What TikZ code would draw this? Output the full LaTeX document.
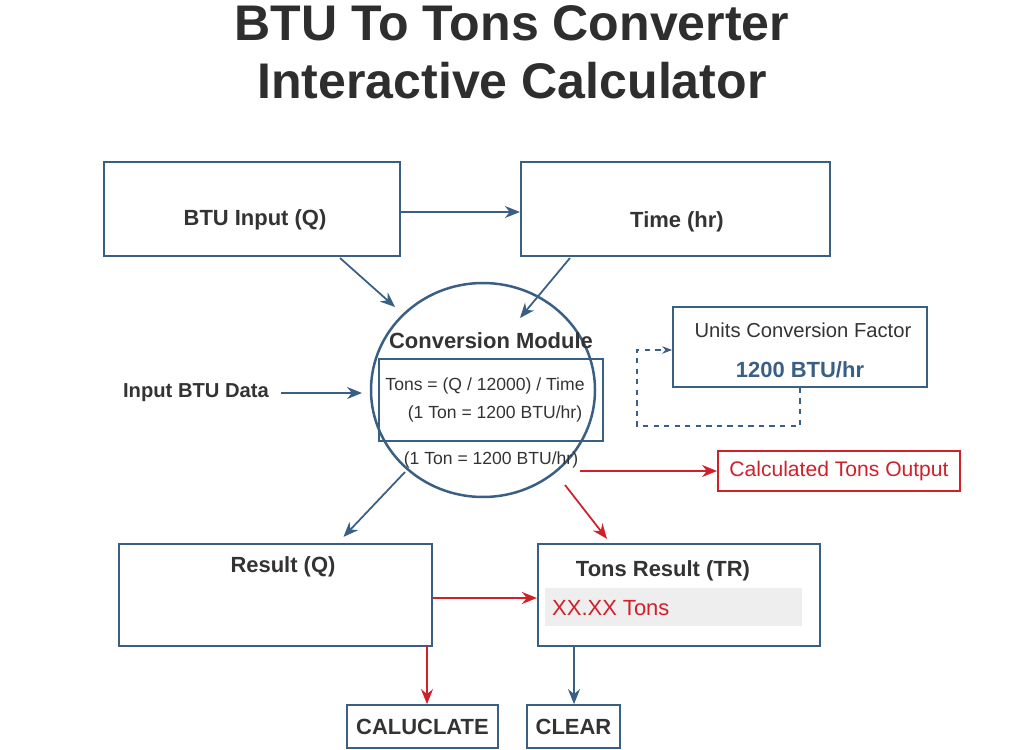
\documentclass[tikz,border=0pt]{standalone}
\usepackage{fontspec}
\setmainfont{Liberation Sans}
\usetikzlibrary{shapes,arrows.meta,positioning,calc}
\definecolor{boxblue}{HTML}{3A5F85}
\definecolor{outred}{HTML}{D0202A}
\definecolor{ttlgray}{HTML}{2E2E2E}
\definecolor{txtgray}{HTML}{333333}
\definecolor{bandgray}{HTML}{EEEEEE}

\begin{document}
\begin{tikzpicture}[x=0.02cm,y=-0.02cm,
  dep/.style={-{Stealth[length=3mm,width=2.4mm]},line width=0.35mm,draw=boxblue},
  rdep/.style={-{Stealth[length=3mm,width=2.4mm]},line width=0.35mm,draw=outred},
  blk/.style 2 args={
    rectangle,
    draw=boxblue,
    line width=0.45mm,
    minimum width=#1*0.02cm,
    minimum height=#2*0.02cm},
  lbl/.style={text=txtgray,font=\bfseries\fontsize{12.5}{14}\selectfont},
  sml/.style={text=txtgray,font=\fontsize{10}{12}\selectfont},
]
  \useasboundingbox (0,0) rectangle (1024,750);

    % Title
  \node[text=ttlgray,font=\bfseries\fontsize{28.5}{33}\selectfont,align=center] (title) at (512,52)
    {BTU To Tons Converter\\Interactive Calculator};

    % Input boxes
  \node[blk={296}{94}] (btu) at (252,209) {};
  \node[lbl] at (255,220) {BTU Input (Q)};
  \node[blk={309}{94}] (time) at (675.5,209) {};
  \node[lbl] at (677,222) {Time (hr)};
  \draw[dep] ($(btu.east)+(0,3)$) to ($(time.west)+(0,3)$);

    % Conversion module
  \node[ellipse,draw=boxblue,line width=0.5mm,minimum width=224*0.02cm,minimum height=214*0.02cm] (conv) at (483,390) {};
  \node[lbl] at (491,341) {Conversion Module};
  \node[rectangle,draw=boxblue,line width=0.4mm,minimum width=224*0.02cm,minimum height=82*0.02cm] (formula) at (491,400) {};
  \node[sml] at (485,386) {Tons = (Q / 12000) / Time};
  \node[sml] at (495,414) {(1 Ton = 1200 BTU/hr)};
  \node[sml] at (491,460) {(1 Ton = 1200 BTU/hr)};
  \coordinate (c1) at (395,307);
  \coordinate (c2) at (520,318);
  \draw[dep] (340,258) to (c1);
  \draw[dep] (570,258) to (c2);

  \node[lbl,font=\bfseries\fontsize{11.5}{14}\selectfont] (inp) at (196,393) {Input BTU Data};
  \draw[dep] ($(inp.east)+(6,0)$) to ($(formula.west |- inp.east)+(-16,0)$);

    % Units factor
  \node[blk={254}{80},line width=0.35mm] (units) at (800,347) {};
  \node[text=txtgray,font=\fontsize{11.5}{14}\selectfont] at (803,330) {Units Conversion Factor};
  \node[text=boxblue,font=\bfseries\fontsize{12.5}{14}\selectfont] at (800,370) {1200 BTU/hr};
  \draw[dashed,draw=boxblue,line width=0.25mm,-{Stealth[length=2mm]}]
    (units.south) -- ++(0,38) -| (637,350) -- (units.west |- 0,350);

    % Output
  \node[rectangle,draw=outred,line width=0.4mm,minimum width=242*0.02cm,minimum height=40*0.02cm,
    text=outred,font=\fontsize{12}{14}\selectfont] (calc) at (839,471) {Calculated Tons Output};
  \draw[rdep] (580,471) to (calc.west);

    % Results
  \node[blk={313}{102}] (res) at (275.5,595) {};
  \node[lbl] at (283,567) {Result (Q)};
  \node[blk={282}{102}] (tons) at (679,595) {};
  \node[lbl] at (663,571) {Tons Result (TR)};
  \node[fill=bandgray,minimum width=257*0.02cm,minimum height=38*0.02cm] (band) at (673.5,607) {};
  \node[text=outred,font=\fontsize{12.5}{14}\selectfont,anchor=west] at (546,608) {XX.XX Tons};
  \draw[dep] (405,472) to ($(res.north)+(68,-6)$);
  \draw[rdep] (565,485) to ($(tons.north)+(-72,-4)$);
  \draw[rdep] ($(res.east)+(0,3)$) to ($(tons.west)+(0,3)$);

    % Buttons
  \node[blk={151}{43},line width=0.35mm,lbl] (calcbtn) at (422.5,726.5) {CALUCLATE};
  \node[blk={93}{43},line width=0.35mm,lbl] (clearbtn) at (573.5,726.5) {CLEAR};
  \coordinate (rb) at (427,646);
  \coordinate (tb) at (574,646);
  \draw[rdep] (rb) to (rb |- calcbtn.north);
  \draw[dep] (tb) to (tb |- clearbtn.north);
\end{tikzpicture}
\end{document}
